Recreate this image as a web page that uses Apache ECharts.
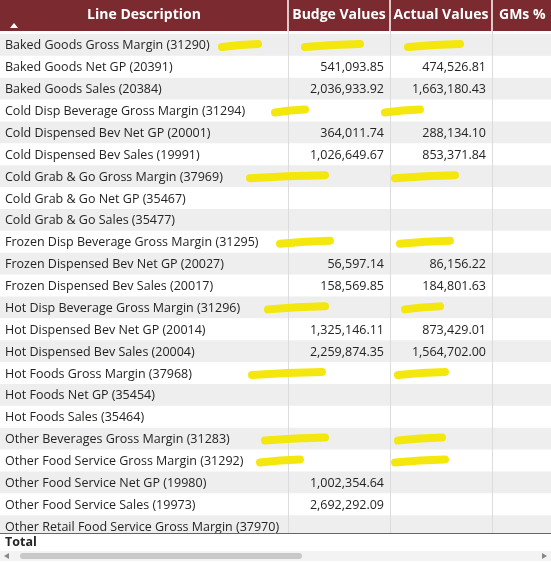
<!DOCTYPE html>
<html><head><meta charset="utf-8">
<script src="https://cdn.jsdelivr.net/npm/echarts@6/dist/echarts.min.js"></script>
<style>html,body{margin:0;padding:0;background:#fff}#c{width:551px;height:565px}</style>
</head><body><div id="c"></div>
<script>
const descriptions = ["Baked Goods Gross Margin (31290)","Baked Goods Net GP (20391)","Baked Goods Sales (20384)","Cold Disp Beverage Gross Margin (31294)","Cold Dispensed Bev Net GP (20001)","Cold Dispensed Bev Sales (19991)","Cold Grab & Go Gross Margin (37969)","Cold Grab & Go Net GP (35467)","Cold Grab & Go Sales (35477)","Frozen Disp Beverage Gross Margin (31295)","Frozen Dispensed Bev Net GP (20027)","Frozen Dispensed Bev Sales (20017)","Hot Disp Beverage Gross Margin (31296)","Hot Dispensed Bev Net GP (20014)","Hot Dispensed Bev Sales (20004)","Hot Foods Gross Margin (37968)","Hot Foods Net GP (35454)","Hot Foods Sales (35464)","Other Beverages Gross Margin (31283)","Other Food Service Gross Margin (31292)","Other Food Service Net GP (19980)","Other Food Service Sales (19973)","Other Retail Food Service Gross Margin (37970)"];
const budgetValues = [null,541093.85,2036933.92,null,364011.74,1026649.67,null,null,null,null,56597.14,158569.85,null,1325146.11,2259874.35,null,null,null,null,null,1002354.64,2692292.09,null];
const actualValues = [null,474526.81,1663180.43,null,288134.10,853371.84,null,null,null,null,86156.22,184801.63,null,873429.01,1564702.00,null,null,null,null,null,null,null,null];
const columnTitles = ["Line Description","Budge Values","Actual Values","GMs %"];
// highlighter marks: [row, x0, x1]
const marks = [[0,222,258],[0,305,360],[0,408,460],[3,275,305],[3,385,420],[6,250,325],[6,395,455],[9,280,330],[9,400,450],[12,268,325],[12,405,440],[15,252,322],[15,398,445],[18,265,325],[18,398,442],[19,260,300],[19,395,445]];

const colX = [0,288,390,492,551];
const fmt = v => v==null ? "" : v.toLocaleString("en-US",{minimumFractionDigits:2,maximumFractionDigits:2});
const font = '12.5px "Open Sans", "DejaVu Sans", sans-serif';
const rows = descriptions.map((d,i)=>[0,i,d,fmt(budgetValues[i]),fmt(actualValues[i])]);

const chart = echarts.init(document.getElementById('c'),null,{renderer:'canvas'});
chart.setOption({
  animation:false,
  grid:{left:0,right:0,top:34,height:503},
  xAxis:{type:'value',min:0,max:551,show:false},
  yAxis:{type:'category',data:descriptions,inverse:true,show:false},
  series:[{
    type:'custom',data:rows,clip:true,z:1,
    renderItem:(p,api)=>{
      const i=api.value(1); const c=api.coord([0,i]); const h=api.size([0,1])[1];
      const y0=c[1]-h/2;
      const ch=[];
      if(i%2===0) ch.push({type:'rect',shape:{x:0,y:y0,width:551,height:h},style:{fill:'#eeeeee'}});
      ch.push({type:'text',style:{text:rows[i][2],x:5,y:c[1]+1,verticalAlign:'middle',font:font,fill:'#252423'}});
      ch.push({type:'text',style:{text:rows[i][3],x:384,y:c[1]+1,align:'right',verticalAlign:'middle',font:font,fill:'#252423'}});
      ch.push({type:'text',style:{text:rows[i][4],x:486,y:c[1]+1,align:'right',verticalAlign:'middle',font:font,fill:'#252423'}});
      return {type:'group',children:ch};
    }
  },{
    type:'custom',data:marks,z:5,
    renderItem:(p,api)=>{
      const r=api.value(0); const c=api.coord([api.value(1),r]); const c2=api.coord([api.value(2),r]);
      const y=c[1]+1;
      return {type:'polyline',shape:{points:[[c[0],y+1],[(c[0]+c2[0])/2,y-1],[c2[0],y-2]]},style:{stroke:'#f2e600',lineWidth:8,lineCap:'round',fill:null,opacity:0.95}};
    }
  }],
  graphic:[
    {type:'rect',shape:{x:0,y:0,width:551,height:31},style:{fill:'#7b2a2f'},z:10},
    {type:'text',style:{text:columnTitles[0],x:144,y:15,align:'center',verticalAlign:'middle',font:'bold 14px "Open Sans", sans-serif',fill:'#fff'},z:11},
    {type:'text',style:{text:columnTitles[1],x:339,y:15,align:'center',verticalAlign:'middle',font:'bold 14px "Open Sans", sans-serif',fill:'#fff'},z:11},
    {type:'text',style:{text:columnTitles[2],x:441,y:15,align:'center',verticalAlign:'middle',font:'bold 14px "Open Sans", sans-serif',fill:'#fff'},z:11},
    {type:'text',style:{text:columnTitles[3],x:499,y:15,verticalAlign:'middle',font:'bold 14px "Open Sans", sans-serif',fill:'#fff'},z:11},
    {type:'polygon',shape:{points:[[10,28],[18,28],[14,23]]},style:{fill:'#fff'},z:11},
    ...[288,390,492].map(x=>({type:'line',shape:{x1:x,y1:0,x2:x,y2:31},style:{stroke:'#fff',lineWidth:1.5},z:11})),
    ...[288,390,492].map(x=>({type:'line',shape:{x1:x+0.5,y1:31,x2:x+0.5,y2:533},style:{stroke:'#dcdcdc',lineWidth:1},z:3})),
    {type:'rect',shape:{x:0,y:533,width:551,height:32},style:{fill:'#fff'},z:10},
    {type:'line',shape:{x1:0,y1:533.5,x2:551,y2:533.5},style:{stroke:'#666',lineWidth:1},z:11},
    {type:'text',style:{text:'Total',x:5,y:542,verticalAlign:'middle',font:'bold 12.5px "Open Sans", sans-serif',fill:'#252423'},z:11},
    {type:'rect',shape:{x:0,y:551,width:551,height:10},style:{fill:'#f3f3f3'},z:11},
    {type:'rect',shape:{x:20,y:553,width:282,height:6,r:3},style:{fill:'#c8c8c8'},z:12},
    {type:'polygon',shape:{points:[[4,556],[9,553],[9,559]]},style:{fill:'#888'},z:12},
    {type:'polygon',shape:{points:[[547,556],[542,553],[542,559]]},style:{fill:'#888'},z:12}
  ]
});
</script></body></html>
